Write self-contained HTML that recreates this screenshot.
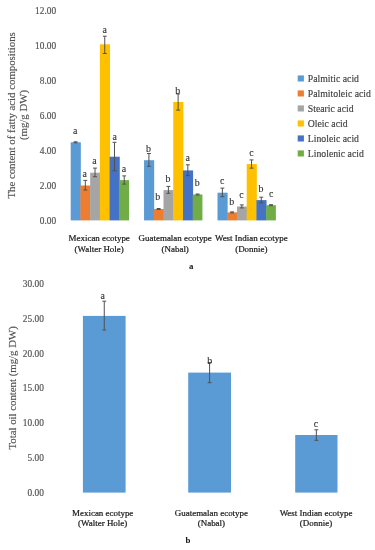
<!DOCTYPE html>
<html><head><meta charset="utf-8"><title>Figure</title>
<style>
html,body{margin:0;padding:0;background:#fff;}
body{width:375px;height:550px;overflow:hidden;}
svg{display:block;}
text{font-family:"Liberation Serif","Times New Roman",serif;}
.ax{font-size:9.35px;fill:#505050;stroke:#505050;stroke-width:0.15;}
.lg{font-size:9.75px;fill:#404040;stroke:#404040;stroke-width:0.15;}
.ti{font-size:10.8px;fill:#505050;stroke:#505050;stroke-width:0.15;}
.ct{font-size:8.95px;fill:#1a1a1a;stroke:#1a1a1a;stroke-width:0.22;}
.lt{font-size:9.9px;fill:#2e2e2e;stroke:#2e2e2e;stroke-width:0.1;}
.pn{font-size:8.8px;font-weight:bold;fill:#111;}
.eb{stroke:#505050;stroke-width:1;fill:none;}
</style></head><body>
<svg width="375" height="550" viewBox="0 0 375 550">
<rect x="0" y="0" width="375" height="550" fill="#ffffff"/>
<!-- chart a -->
<g>
<text class="ax" x="56.1" y="223.8" text-anchor="end">0.00</text>
<text class="ax" x="56.1" y="188.8" text-anchor="end">2.00</text>
<text class="ax" x="56.1" y="153.9" text-anchor="end">4.00</text>
<text class="ax" x="56.1" y="118.9" text-anchor="end">6.00</text>
<text class="ax" x="56.1" y="83.9" text-anchor="end">8.00</text>
<text class="ax" x="56.1" y="48.9" text-anchor="end">10.00</text>
<text class="ax" x="56.1" y="14.0" text-anchor="end">12.00</text>
<text class="ti" transform="translate(14.6,115.4) rotate(-90)" text-anchor="middle">The content of fatty acid compositions</text>
<text class="ti" transform="translate(26.7,115.0) rotate(-90)" text-anchor="middle">(mg/g DW)</text>
<rect x="70.70" y="142.3" width="10.13" height="78.1" fill="#5B9BD5"/>
<rect x="80.43" y="185.5" width="10.13" height="34.9" fill="#ED7D31"/>
<rect x="90.16" y="172.7" width="10.13" height="47.7" fill="#A5A5A5"/>
<rect x="99.89" y="44.3" width="10.13" height="176.1" fill="#FFC000"/>
<rect x="109.62" y="156.7" width="10.13" height="63.7" fill="#4472C4"/>
<rect x="119.35" y="180.1" width="9.73" height="40.3" fill="#70AD47"/>
<path class="eb" d="M75.56 141.8V142.8M73.61 141.8H77.52M73.61 142.8H77.52"/>
<text class="lt" x="75.2" y="133.9" text-anchor="middle">a</text>
<path class="eb" d="M85.30 180.4V190.0M83.34 180.4H87.25M83.34 190.0H87.25"/>
<text class="lt" x="84.8" y="176.9" text-anchor="middle">a</text>
<path class="eb" d="M95.02 168.1V176.7M93.07 168.1H96.97M93.07 176.7H96.97"/>
<text class="lt" x="94.4" y="164.1" text-anchor="middle">a</text>
<path class="eb" d="M104.75 36.2V53.5M102.80 36.2H106.70M102.80 53.5H106.70"/>
<text class="lt" x="104.6" y="33.4" text-anchor="middle">a</text>
<path class="eb" d="M114.48 142.3V170.8M112.53 142.3H116.44M112.53 170.8H116.44"/>
<text class="lt" x="114.7" y="139.5" text-anchor="middle">a</text>
<path class="eb" d="M124.22 175.9V184.1M122.27 175.9H126.17M122.27 184.1H126.17"/>
<text class="lt" x="124.0" y="172.1" text-anchor="middle">a</text>
<rect x="144.05" y="160.2" width="10.13" height="60.2" fill="#5B9BD5"/>
<rect x="153.78" y="209.0" width="10.13" height="11.4" fill="#ED7D31"/>
<rect x="163.51" y="190.1" width="10.13" height="30.3" fill="#A5A5A5"/>
<rect x="173.24" y="102.0" width="10.13" height="118.4" fill="#FFC000"/>
<rect x="182.97" y="170.4" width="10.13" height="50.0" fill="#4472C4"/>
<rect x="192.70" y="194.5" width="9.73" height="25.9" fill="#70AD47"/>
<path class="eb" d="M148.92 153.5V166.3M146.97 153.5H150.87M146.97 166.3H150.87"/>
<text class="lt" x="148.4" y="151.7" text-anchor="middle">b</text>
<path class="eb" d="M158.65 208.5V209.5M156.70 208.5H160.59M156.70 209.5H160.59"/>
<text class="lt" x="157.7" y="200.2" text-anchor="middle">b</text>
<path class="eb" d="M168.38 186.4V193.3M166.43 186.4H170.33M166.43 193.3H170.33"/>
<text class="lt" x="167.9" y="181.9" text-anchor="middle">b</text>
<path class="eb" d="M178.11 93.9V110.1M176.16 93.9H180.06M176.16 110.1H180.06"/>
<text class="lt" x="177.8" y="93.5" text-anchor="middle">b</text>
<path class="eb" d="M187.84 164.8V175.6M185.89 164.8H189.79M185.89 175.6H189.79"/>
<text class="lt" x="187.7" y="161.2" text-anchor="middle">a</text>
<path class="eb" d="M197.57 194.0V195.0M195.62 194.0H199.52M195.62 195.0H199.52"/>
<text class="lt" x="197.3" y="185.7" text-anchor="middle">b</text>
<rect x="217.50" y="192.7" width="10.13" height="27.7" fill="#5B9BD5"/>
<rect x="227.23" y="212.4" width="10.13" height="8.0" fill="#ED7D31"/>
<rect x="236.96" y="206.5" width="10.13" height="13.9" fill="#A5A5A5"/>
<rect x="246.69" y="164.1" width="10.13" height="56.3" fill="#FFC000"/>
<rect x="256.42" y="200.1" width="10.13" height="20.3" fill="#4472C4"/>
<rect x="266.15" y="205.2" width="9.73" height="15.2" fill="#70AD47"/>
<path class="eb" d="M222.37 188.1V196.7M220.42 188.1H224.31M220.42 196.7H224.31"/>
<text class="lt" x="222.1" y="183.7" text-anchor="middle">c</text>
<path class="eb" d="M232.09 211.9V212.9M230.15 211.9H234.04M230.15 212.9H234.04"/>
<text class="lt" x="231.7" y="204.5" text-anchor="middle">b</text>
<path class="eb" d="M241.83 204.9V207.9M239.88 204.9H243.78M239.88 207.9H243.78"/>
<text class="lt" x="241.5" y="197.9" text-anchor="middle">c</text>
<path class="eb" d="M251.56 159.9V168.1M249.61 159.9H253.50M249.61 168.1H253.50"/>
<text class="lt" x="251.4" y="155.7" text-anchor="middle">c</text>
<path class="eb" d="M261.29 197.2V202.8M259.34 197.2H263.24M259.34 202.8H263.24"/>
<text class="lt" x="261.0" y="191.5" text-anchor="middle">b</text>
<path class="eb" d="M271.01 204.7V205.7M269.06 204.7H272.96M269.06 205.7H272.96"/>
<text class="lt" x="271.1" y="197.1" text-anchor="middle">c</text>
<rect x="297.7" y="75.4" width="6.2" height="6.1" fill="#5B9BD5"/>
<text class="lg" x="307.8" y="81.6">Palmitic acid</text>
<rect x="297.7" y="90.4" width="6.2" height="6.1" fill="#ED7D31"/>
<text class="lg" x="307.8" y="96.6">Palmitoleic acid</text>
<rect x="297.7" y="105.4" width="6.2" height="6.1" fill="#A5A5A5"/>
<text class="lg" x="307.8" y="111.6">Stearic acid</text>
<rect x="297.7" y="120.4" width="6.2" height="6.1" fill="#FFC000"/>
<text class="lg" x="307.8" y="126.6">Oleic acid</text>
<rect x="297.7" y="135.4" width="6.2" height="6.1" fill="#4472C4"/>
<text class="lg" x="307.8" y="141.6">Linoleic acid</text>
<rect x="297.7" y="150.4" width="6.2" height="6.1" fill="#70AD47"/>
<text class="lg" x="307.8" y="156.6">Linolenic acid</text>
<text class="ct" x="99.2" y="241.3" text-anchor="middle">Mexican ecotype</text>
<text class="ct" x="99.2" y="251.8" text-anchor="middle">(Walter Hole)</text>
<text class="ct" x="175.2" y="241.3" text-anchor="middle">Guatemalan ecotype</text>
<text class="ct" x="175.2" y="251.8" text-anchor="middle">(Nabal)</text>
<text class="ct" x="251.3" y="241.3" text-anchor="middle">West Indian ecotype</text>
<text class="ct" x="251.3" y="251.8" text-anchor="middle">(Donnie)</text>
<text class="pn" x="191.1" y="269.1" text-anchor="middle">a</text>
</g>
<!-- chart b -->
<g>
<text class="ax" x="43.9" y="496.2" text-anchor="end">0.00</text>
<text class="ax" x="43.9" y="461.3" text-anchor="end">5.00</text>
<text class="ax" x="43.9" y="426.4" text-anchor="end">10.00</text>
<text class="ax" x="43.9" y="391.4" text-anchor="end">15.00</text>
<text class="ax" x="43.9" y="356.5" text-anchor="end">20.00</text>
<text class="ax" x="43.9" y="321.6" text-anchor="end">25.00</text>
<text class="ax" x="43.9" y="286.7" text-anchor="end">30.00</text>
<text class="ti" transform="translate(15.9,387.9) rotate(-90)" text-anchor="middle">Total oil content (mg/g DW)</text>
<rect x="82.9" y="315.9" width="42.7" height="176.7" fill="#5B9BD5"/>
<path class="eb" d="M104.25 301.2V330.0M102.30 301.2H106.20M102.30 330.0H106.20"/>
<text class="lt" x="102.8" y="298.5" text-anchor="middle">a</text>
<rect x="188.2" y="372.6" width="42.8" height="120.0" fill="#5B9BD5"/>
<path class="eb" d="M209.60 362.6V382.7M207.65 362.6H211.55M207.65 382.7H211.55"/>
<text class="lt" x="209.8" y="364.0" text-anchor="middle">b</text>
<rect x="295.2" y="435.0" width="42.3" height="57.6" fill="#5B9BD5"/>
<path class="eb" d="M316.35 429.8V440.3M314.40 429.8H318.30M314.40 440.3H318.30"/>
<text class="lt" x="316.0" y="426.9" text-anchor="middle">c</text>
<text class="ct" x="102.7" y="515.8" text-anchor="middle">Mexican ecotype</text>
<text class="ct" x="102.7" y="526.3" text-anchor="middle">(Walter Hole)</text>
<text class="ct" x="211.4" y="515.8" text-anchor="middle">Guatemalan ecotype</text>
<text class="ct" x="211.4" y="526.3" text-anchor="middle">(Nabal)</text>
<text class="ct" x="316.0" y="515.8" text-anchor="middle">West Indian ecotype</text>
<text class="ct" x="316.0" y="526.3" text-anchor="middle">(Donnie)</text>
<text class="pn" x="188.0" y="542.8" text-anchor="middle">b</text>
</g>
</svg>
</body></html>
